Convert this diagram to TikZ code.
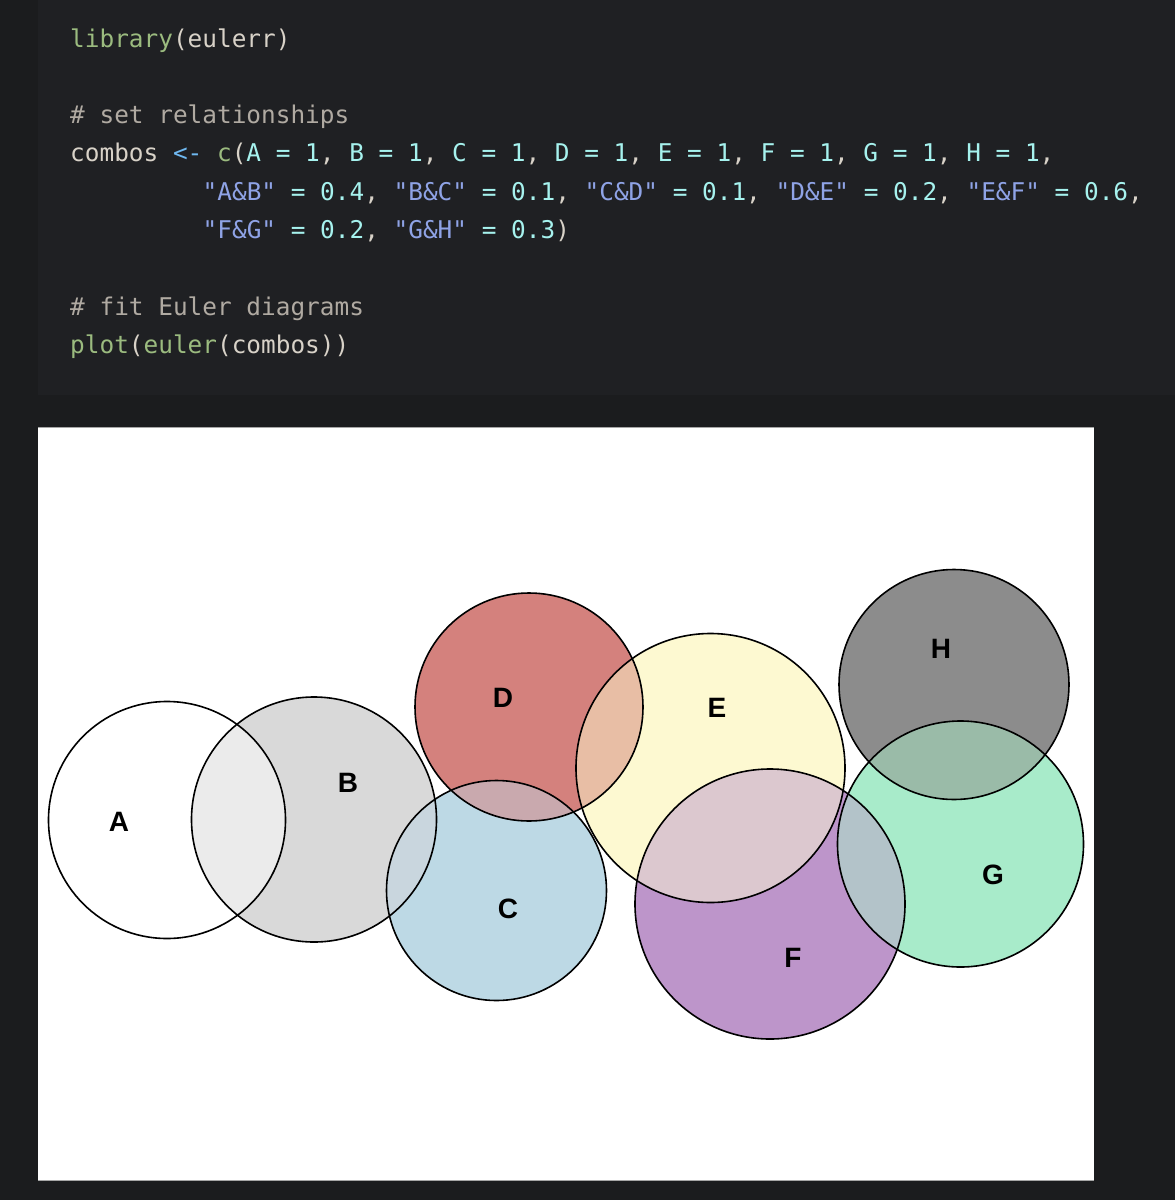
\documentclass[tikz,border=0pt]{standalone}
\usepackage{fontspec}
\newfontfamily\codefont{DejaVu Sans Mono}
\newfontfamily\labfont{Liberation Sans}
\definecolor{outerbg}{HTML}{1B1C1E}
\definecolor{panelbg}{HTML}{1F2023}
\definecolor{cdef}{HTML}{D8D2C8}
\definecolor{cfun}{HTML}{9BBB7F}
\definecolor{ccom}{HTML}{B0AAA2}
\definecolor{cnum}{HTML}{A6F2EE}
\definecolor{cstr}{HTML}{8FA3E6}
\definecolor{carr}{HTML}{6FB8F0}
\definecolor{colB}{HTML}{D9D9D9}
\definecolor{colC}{HTML}{BDD9E5}
\definecolor{colD}{HTML}{D4817D}
\definecolor{colE}{HTML}{FDF9D1}
\definecolor{colF}{HTML}{BD95CA}
\definecolor{colG}{HTML}{A8EBCA}
\definecolor{colH}{HTML}{8C8C8C}
\definecolor{colAB}{HTML}{EBEBEB}
\definecolor{colBC}{HTML}{C9D6DE}
\definecolor{colCD}{HTML}{C9A9AE}
\definecolor{colDE}{HTML}{E8BEA5}
\definecolor{colEF}{HTML}{DCC8CF}
\definecolor{colFG}{HTML}{B3C3C9}
\definecolor{colGH}{HTML}{9ABBA8}
\newcommand{\codeP}[1]{\textcolor{cdef}{#1}}
\newcommand{\codeF}[1]{\textcolor{cfun}{#1}}
\newcommand{\codeC}[1]{\textcolor{ccom}{#1}}
\newcommand{\codeN}[1]{\textcolor{cnum}{#1}}
\newcommand{\codeS}[1]{\textcolor{cstr}{#1}}
\newcommand{\codeA}[1]{\textcolor{carr}{#1}}
\tikzset{
  codeline/.style={anchor=base west, inner sep=0pt, font=\codefont\fontsize{24.4pt}{28pt}\selectfont, text=cdef},
  setlabel/.style={anchor=center, inner sep=0pt, font=\labfont\bfseries\fontsize{28pt}{32pt}\selectfont, text=black},
  setedge/.style={draw=black, line width=1.6pt}
}
\begin{document}
\begin{tikzpicture}[x=1pt,y=-1pt]
\useasboundingbox (0,0) rectangle (1175,1200);
\fill[outerbg] (0,0) rectangle (1175,1200);
\fill[panelbg] (38,0) rectangle (1175,395);
% code
\node[codeline] (l1) at (70,47) {\codeF{library}\codeP{(eulerr)}};
\node[codeline] (l3) at (70,123.6) {\codeC{\# set relationships}};
\node[codeline] (l4) at (70,161.9) {\codeP{combos} \codeA{<-} \codeF{c}\codeP{(}\codeN{A = 1}\codeP{,} \codeN{B = 1}\codeP{,} \codeN{C = 1}\codeP{,} \codeN{D = 1}\codeP{,} \codeN{E = 1}\codeP{,} \codeN{F = 1}\codeP{,} \codeN{G = 1}\codeP{,} \codeN{H = 1}\codeP{,}};
\node[codeline] (l5) at (202.5,200.2) {\codeS{"A\&B"} \codeN{= 0.4}\codeP{,} \codeS{"B\&C"} \codeN{= 0.1}\codeP{,} \codeS{"C\&D"} \codeN{= 0.1}\codeP{,} \codeS{"D\&E"} \codeN{= 0.2}\codeP{,} \codeS{"E\&F"} \codeN{= 0.6}\codeP{,}};
\node[codeline] (l6) at (202.5,238.5) {\codeS{"F\&G"} \codeN{= 0.2}\codeP{,} \codeS{"G\&H"} \codeN{= 0.3}\codeP{)}};
\node[codeline] (l8) at (70,315.1) {\codeC{\# fit Euler diagrams}};
\node[codeline] (l9) at (70,353.4) {\codeF{plot}\codeP{(}\codeF{euler}\codeP{(combos))}};
% plot area
\fill[white] (38,427) rectangle (1094,1181);
\draw[gray!70, line width=1pt] (38,427.5) -- (1094,427.5);
\draw[gray!70, line width=1pt] (38,1180.5) -- (1094,1180.5);
% circle geometry
\def\cA{(167,820) circle (118.5)}
\def\cB{(314,819.5) circle (122.5)}
\def\cC{(496.5,890.5) circle (110)}
\def\cD{(529,707) circle (114)}
\def\cE{(710.5,768) circle (134.5)}
\def\cF{(770,904) circle (135)}
\def\cG{(960.5,844) circle (123)}
\def\cH{(954,684.5) circle (115)}
% base fills
\fill[white] \cA;
\fill[colB] \cB;
\fill[colC] \cC;
\fill[colD] \cD;
\fill[colE] \cE;
\fill[colF] \cF;
\fill[colG] \cG;
\fill[colH] \cH;
% intersections
\begin{scope}\clip \cA; \fill[colAB] \cB; \end{scope}
\begin{scope}\clip \cB; \fill[colBC] \cC; \end{scope}
\begin{scope}\clip \cC; \fill[colCD] \cD; \end{scope}
\begin{scope}\clip \cD; \fill[colDE] \cE; \end{scope}
\begin{scope}\clip \cE; \fill[colEF] \cF; \end{scope}
\begin{scope}\clip \cF; \fill[colFG] \cG; \end{scope}
\begin{scope}\clip \cG; \fill[colGH] \cH; \end{scope}
% outlines
\draw[setedge] \cA;
\draw[setedge] \cB;
\draw[setedge] \cC;
\draw[setedge] \cD;
\draw[setedge] \cE;
\draw[setedge] \cF;
\draw[setedge] \cG;
\draw[setedge] \cH;
% labels
\node[setlabel] (labA) at (119,822) {A};
\node[setlabel] (labB) at (348,783) {B};
\node[setlabel] (labC) at (508,909) {C};
\node[setlabel] (labD) at (503,698) {D};
\node[setlabel] (labE) at (717,708) {E};
\node[setlabel] (labF) at (793,958) {F};
\node[setlabel] (labG) at (993,875) {G};
\node[setlabel] (labH) at (941,649) {H};
\end{tikzpicture}
\end{document}
